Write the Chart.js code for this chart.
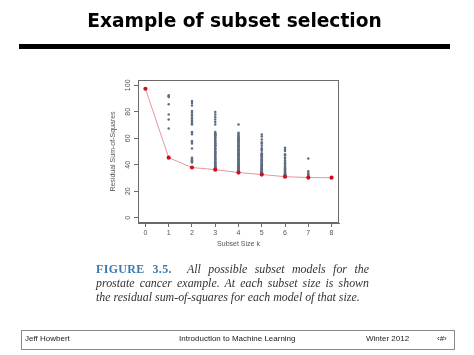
<!DOCTYPE html>
<html><head><meta charset="utf-8">
<script src="https://cdn.jsdelivr.net/npm/chart.js@4.4.0/dist/chart.umd.min.js"></script>
<style>
html,body{margin:0;padding:0;background:#fff;}
body{width:474px;height:355px;position:relative;overflow:hidden;}
#c{position:absolute;left:0;top:0;}
.title{position:absolute;left:0;width:469px;top:11px;text-align:center;font-family:"DejaVu Sans";font-weight:bold;font-size:18.6px;line-height:19px;color:#000;}
.rule{position:absolute;left:19px;top:44px;width:431px;height:5px;background:#000;}
.cap{position:absolute;left:96px;top:262px;width:273px;font-family:"Liberation Serif";font-size:11.9px;line-height:14px;color:#333;}
.cap .j{text-align:justify;text-align-last:justify;}
.cap i{font-style:italic;}
.fig{color:#3b78ad;font-weight:bold;font-style:normal;letter-spacing:0.4px;}
.foot{position:absolute;left:21px;top:330px;width:432px;height:18px;border:1px solid #888;}
.foot span{position:absolute;top:3px;font-family:"Liberation Sans";font-size:8px;line-height:10px;color:#222;white-space:nowrap;}
</style></head>
<body>
<canvas id="c" width="474" height="355"></canvas>
<div class="title">Example of subset selection</div>
<div class="rule"></div>
<div class="cap">
<div class="j"><span class="fig">FIGURE 3.5.</span>&nbsp; <i>All possible subset models for the</i></div>
<div class="j"><i>prostate cancer example. At each subset size is shown</i></div>
<div><i>the residual sum-of-squares for each model of that size.</i></div>
</div>
<div class="foot">
<span style="left:3px">Jeff Howbert</span>
<span style="left:157px">Introduction to Machine Learning</span>
<span style="left:344px">Winter 2012</span>
<span style="left:415px">‹#›</span>
</div>
<script>
const subsetSizes = [0, 1, 2, 3, 4, 5, 6, 7, 8];
const xTickLabels = ['0', '1', '2', '3', '4', '5', '6', '7', '8'];
const yTickValues = [0, 20, 40, 60, 80, 100];
const yTickLabels = ['0', '20', '40', '60', '80', '100'];

// best model RSS at each subset size (red points)
const bestRss = [97.4, 45.3, 37.9, 36.3, 34.1, 32.6, 31.0, 30.3, 30.2];

// RSS of the other models at each subset size (grey points)
const rssSize1 = [92.5, 91.8, 91.1, 85.7, 77.9, 74.2, 67.4];
const rssSize2 = [88.2, 86.7, 84.7, 80.5, 79.4, 78.0, 77.1, 75.6, 74.8, 73.2, 72.3, 71.1, 70.4, 64.8, 64.3, 63.1, 57.8, 57.3, 56.1, 52.3, 45.2, 44.6, 43.8, 43.3, 42.6, 42.2, 41.7];
const rssSize3 = [79.9, 77.9, 76.1, 74.1, 72.3, 70.4, 64.8, 63.7, 63.1, 62.2, 61.8, 60.9, 60.1, 59.6, 58.4, 57.9, 57.2, 56.3, 55.9, 54.8, 54.1, 53.6, 52.5, 51.8, 51.3, 50.2, 49.6, 48.7, 48.1, 47.3, 46.6, 46.0, 45.2, 44.7, 43.9, 43.1, 42.6, 41.8, 41.2, 40.7, 40.1, 39.5, 39.1, 38.6, 38.3, 38.0, 37.6, 37.3, 37.0, 36.8, 36.6, 62.7, 55.1, 49.0, 44.3];
const rssSize4 = [70.4, 64.2, 63.4, 62.5, 61.8, 61.2, 60.7, 60.1, 59.4, 58.9, 58.2, 57.6, 57.1, 56.5, 55.8, 55.2, 54.7, 54.0, 53.4, 52.9, 52.2, 51.6, 51.0, 50.5, 49.8, 49.3, 48.6, 48.0, 47.5, 46.9, 46.3, 45.8, 45.1, 44.6, 44.0, 43.5, 42.9, 42.4, 41.9, 41.3, 40.8, 40.3, 39.8, 39.4, 38.9, 38.5, 38.1, 37.7, 37.4, 37.0, 36.7, 36.4, 36.1, 35.8, 35.5, 35.3, 35.0, 34.8, 34.6, 58.5, 53.7, 49.0, 44.3, 40.0, 37.9, 36.2, 35.6, 42.1, 47.2];
const rssSize5 = [62.8, 61.4, 59.1, 57.0, 56.1, 54.3, 52.5, 51.3, 50.5, 48.6, 48.0, 47.3, 46.5, 45.9, 45.2, 44.6, 44.0, 43.3, 42.8, 42.1, 41.6, 41.0, 40.5, 40.0, 39.6, 39.1, 38.7, 38.2, 37.8, 37.5, 37.1, 36.8, 36.4, 36.1, 35.8, 35.5, 35.2, 34.9, 34.7, 34.4, 34.2, 34.0, 33.8, 33.6, 33.4, 33.2, 33.0, 32.9, 46.9, 43.6, 39.3, 37.0, 35.0, 33.5, 32.8];
const rssSize6 = [52.8, 51.4, 50.3, 48.0, 47.2, 45.5, 44.6, 42.0, 41.2, 40.5, 38.4, 37.8, 37.2, 36.6, 36.0, 35.5, 35.0, 34.5, 34.0, 33.6, 33.2, 32.8, 32.5, 32.2, 31.9, 39.2, 43.0];
const rssSize7 = [44.8, 35.0, 33.8, 32.9, 32.2, 31.4, 30.8];

const otherModels = [rssSize1, rssSize2, rssSize3, rssSize4, rssSize5, rssSize6, rssSize7];
const greyPoints = [];
otherModels.forEach((vals, i) => vals.forEach(v => greyPoints.push({x: subsetSizes[i + 1], y: v})));
const bestPoints = subsetSizes.map((k, i) => ({x: k, y: bestRss[i]}));

const AX = '#6a6a6a';
const LBL = '#555';
const FONT = {family: 'Liberation Sans', size: 7};

const framePlugin = {
  id: 'frame',
  afterDatasetsDraw(chart) {
    const {ctx, chartArea: a} = chart;
    ctx.save();
    ctx.strokeStyle = AX;
    ctx.lineWidth = 1;
    ctx.strokeRect(Math.round(a.left) + 0.5, Math.round(a.top) + 0.5,
      Math.round(a.right - a.left) - 1, Math.round(a.bottom - a.top) - 1);
    ctx.restore();
  }
};

new Chart(document.getElementById('c'), {
  type: 'scatter',
  data: {
    datasets: [
      {
        data: bestPoints,
        showLine: true,
        borderColor: 'rgba(228,120,130,0.8)',
        borderWidth: 1,
        pointRadius: 2.1,
        pointBackgroundColor: '#cc1020',
        pointBorderWidth: 0,
        clip: false
      },
      {
        data: greyPoints,
        pointRadius: 1.25,
        pointBackgroundColor: '#5e6e80',
        pointBorderWidth: 0,
        clip: false
      }
    ]
  },
  options: {
    responsive: false,
    animation: false,
    devicePixelRatio: 1,
    layout: {padding: {left: 108, top: 80, right: 135, bottom: 104}},
    plugins: {legend: {display: false}, tooltip: {enabled: false}},
    scales: {
      x: {
        type: 'linear', min: -0.32, max: 8.32,
        afterBuildTicks: s => { s.ticks = subsetSizes.map(v => ({value: v})); },
        afterFit: s => { s.height = 28; },
        ticks: {autoSkip: false, minRotation: 0, maxRotation: 0, font: FONT, color: LBL, padding: 1.5,
          callback: (v, i) => xTickLabels[i]},
        grid: {drawOnChartArea: false, drawTicks: true, tickLength: 4, color: AX},
        border: {display: true, color: AX},
        title: {display: true, text: 'Subset Size k', font: FONT, color: LBL, padding: {top: 0, bottom: 3}}
      },
      y: {
        type: 'linear', min: -4, max: 104,
        afterBuildTicks: s => { s.ticks = yTickValues.map(v => ({value: v})); },
        afterFit: s => { s.width = 30; },
        ticks: {minRotation: 90, maxRotation: 90, crossAlign: 'center', font: FONT, color: LBL, padding: 0.5,
          callback: (v, i) => yTickLabels[i]},
        grid: {drawOnChartArea: false, drawTicks: true, tickLength: 4, color: AX},
        border: {display: true, color: AX},
        title: {display: true, text: 'Residual Sum-of-Squares', font: FONT, color: LBL, padding: {top: 1, bottom: 0}}
      }
    }
  },
  plugins: [framePlugin]
});
</script>
</body></html>
